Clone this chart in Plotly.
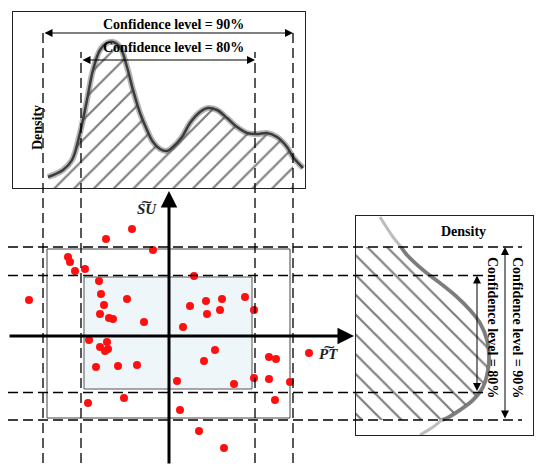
import plotly.graph_objects as go

# figure size and the pixel scale used to lay the three panels on one grid
W, H = 550, 475
PAGE_OFFSET = 8             # the page body margin pushes the figure 8px right and down
ORIGIN_PX = (169, 336)      # where the PT / SU axes cross
PX_PER_UNIT = 50            # pixels per unit on the PT and SU scales
DENS_PX = 100               # pixels per unit of density in both side panels

# confidence bounds (PT on x, SU on y)
ci90_pt = [-2.52, 2.48]
ci80_pt = [-1.76, 1.72]
ci90_su = [-1.68, 1.78]
ci80_su = [-1.13, 1.21]

# rectangles drawn in the scatter plane
outer_box_pt = [-2.44, 2.42]
outer_box_su = [-1.64, 1.74]
inner_box_pt = [-1.70, 1.66]
inner_box_su = [-1.06, 1.18]

# sample points
pt_samples = [-0.74, -1.26, -0.32, -2.02, -1.98, -1.88, -1.68, -1.40, 0.50, -2.80,
              -1.36, -0.84, -1.30, -1.38, -1.20, -1.12, -0.50, 0.42, 0.74, 1.06,
              1.52, 0.76, 1.02, 1.70, 0.28, -1.60, -1.24, -1.38, -1.28, -1.22,
              0.92, 0.70, -1.46, -1.02, -0.64, 2.00, 2.14, 2.80, 0.16, 1.30,
              1.70, 2.00, 2.42, -1.62, -0.90, 0.22, 2.12, 0.60, 1.10]
su_samples = [2.14, 1.94, 1.72, 1.58, 1.48, 1.30, 1.34, 1.10, 1.20, 0.72,
              0.84, 0.74, 0.62, 0.44, 0.36, 0.34, 0.28, 0.60, 0.70, 0.74,
              0.78, 0.44, 0.52, 0.52, 0.18, -0.08, -0.12, -0.22, -0.30, -0.26,
              -0.28, -0.50, -0.62, -0.60, -0.58, -0.42, -0.46, -0.34, -0.90, -0.96,
              -0.84, -0.86, -0.92, -1.34, -1.24, -1.48, -1.28, -1.90, -2.24]

# density of PT (top panel)
pt_grid = [-2.42, -2.12, -1.94, -1.78, -1.64, -1.52, -1.38, -1.24, -1.12, -0.98,
           -0.84, -0.72, -0.58, -0.44, -0.32, -0.18, -0.04, 0.08, 0.26, 0.42,
           0.62, 0.78, 0.96, 1.16, 1.36, 1.56, 1.76, 1.96, 2.16, 2.36,
           2.48, 2.68]
pt_density = [0.11, 0.18, 0.28, 0.55, 0.88, 1.18, 1.38, 1.45, 1.46, 1.41,
              1.21, 0.98, 0.75, 0.58, 0.46, 0.39, 0.37, 0.41, 0.51, 0.65,
              0.76, 0.80, 0.78, 0.70, 0.61, 0.55, 0.54, 0.55, 0.51, 0.41,
              0.31, 0.20]

# density of SU (right panel)
su_grid = [2.38, 1.98, 1.78, 1.62, 1.32, 1.06, 0.78, 0.52, 0.26, -0.08,
           -0.42, -0.68, -1.02, -1.28, -1.48, -1.64, -1.68, -1.82, -1.98]
su_density = [0.24, 0.37, 0.45, 0.51, 0.67, 0.84, 1.01, 1.14, 1.24, 1.31,
              1.33, 1.32, 1.27, 1.17, 1.04, 0.91, 0.86, 0.77, 0.64]

FONT = "Liberation Serif"


def pt_at(px):
    return (px - ORIGIN_PX[0]) / PX_PER_UNIT


def su_at(py):
    return (ORIGIN_PX[1] - py) / PX_PER_UNIT


def px_paper(px):
    return (px - PAGE_OFFSET) / W


def py_paper(py):
    return (H - (py - PAGE_OFFSET)) / H


def xdom(left, right):
    return [px_paper(left), px_paper(right)]


def ydom(top, bottom):
    return [py_paper(bottom), py_paper(top)]


top_hatch = [(x, d) for x, d in zip(pt_grid, pt_density) if x <= ci90_pt[1]]
right_hatch = [(s, d) for s, d in zip(su_grid, su_density) if ci90_su[0] <= s <= ci90_su[1]]

fig = go.Figure()

# scatter plane
fig.add_trace(go.Scatter(
    x=pt_samples, y=su_samples, mode="markers",
    marker=dict(color="#ff1010", size=8, line=dict(width=0)),
    xaxis="x", yaxis="y", showlegend=False,
))

# top panel: density of PT
fig.add_trace(go.Scatter(
    x=[p[0] for p in top_hatch], y=[p[1] for p in top_hatch],
    mode="lines", line=dict(width=0, shape="spline"),
    fill="tozeroy", fillcolor="white",
    fillpattern=dict(shape="/", size=14, solidity=0.16, fgcolor="black", bgcolor="white"),
    xaxis="x2", yaxis="y2", showlegend=False,
))
fig.add_trace(go.Scatter(
    x=pt_grid, y=pt_density, mode="lines",
    line=dict(color="rgba(90,90,90,0.45)", width=6, shape="spline"),
    xaxis="x2", yaxis="y2", showlegend=False,
))
fig.add_trace(go.Scatter(
    x=pt_grid, y=pt_density, mode="lines",
    line=dict(color="#3c3c3c", width=2.5, shape="spline"),
    xaxis="x2", yaxis="y2", showlegend=False,
))

# right panel: density of SU
fig.add_trace(go.Scatter(
    x=[p[1] for p in right_hatch], y=[p[0] for p in right_hatch],
    mode="lines", line=dict(width=0, shape="spline"),
    fill="tozerox", fillcolor="white",
    fillpattern=dict(shape="\\", size=14, solidity=0.16, fgcolor="black", bgcolor="white"),
    xaxis="x3", yaxis="y3", showlegend=False,
))
fig.add_trace(go.Scatter(
    x=su_density, y=su_grid, mode="lines",
    line=dict(color="#bdbdbd", width=3, shape="spline"),
    xaxis="x3", yaxis="y3", showlegend=False,
))
fig.add_trace(go.Scatter(
    x=[p[1] for p in right_hatch], y=[p[0] for p in right_hatch], mode="lines",
    line=dict(color="rgba(70,70,70,0.55)", width=4, shape="spline"),
    xaxis="x3", yaxis="y3", showlegend=False,
))

shapes = []
# confidence rectangles
shapes.append(dict(type="rect", xref="x", yref="y", layer="below",
                   x0=outer_box_pt[0], x1=outer_box_pt[1], y0=outer_box_su[0], y1=outer_box_su[1],
                   line=dict(color="#444", width=1)))
shapes.append(dict(type="rect", xref="x", yref="y", layer="below",
                   x0=inner_box_pt[0], x1=inner_box_pt[1], y0=inner_box_su[0], y1=inner_box_su[1],
                   fillcolor="#eef6fa", line=dict(color="#555", width=1)))

# dashed guide lines
dash = dict(color="black", width=1.3, dash="10px,5px")
for bounds, top in ((ci90_pt, 32), (ci80_pt, 52)):
    for b in bounds:
        shapes.append(dict(type="line", xref="x", yref="paper", layer="above",
                           x0=b, x1=b, y0=py_paper(463), y1=py_paper(top), line=dash))
for bounds, right in ((ci90_su, 522), (ci80_su, 485)):
    for b in bounds:
        shapes.append(dict(type="line", xref="paper", yref="y", layer="above",
                           x0=px_paper(8), x1=px_paper(right), y0=b, y1=b, line=dash))

bold = dict(family=FONT, size=14, color="black")
annotations = [
    # main axes arrows
    dict(x=pt_at(354), y=0, ax=pt_at(8), ay=0, xref="x", yref="y", axref="x", ayref="y",
         text="", showarrow=True, arrowhead=2, arrowsize=1.1, arrowwidth=3,
         arrowcolor="black", standoff=0, startstandoff=0),
    dict(x=0, y=su_at(191), ax=0, ay=su_at(465), xref="x", yref="y", axref="x", ayref="y",
         text="", showarrow=True, arrowhead=2, arrowsize=1.1, arrowwidth=3,
         arrowcolor="black", standoff=0, startstandoff=0),
    dict(x=pt_at(147), y=su_at(208), xref="x", yref="y", showarrow=False,
         text="<b><i>S\u0360U</i></b>", font=dict(family=FONT, size=15, color="#222")),
    dict(x=pt_at(328), y=su_at(353), xref="x", yref="y", showarrow=False,
         text="<b><i>P\u0360T</i></b>", font=dict(family=FONT, size=15, color="#222")),

    # top panel
    dict(x=ci90_pt[1], y=1.55, ax=ci90_pt[0], ay=1.55, xref="x2", yref="y2", axref="x2", ayref="y2",
         text="", showarrow=True, arrowhead=2, arrowside="end+start", arrowsize=1.6,
         arrowwidth=1, arrowcolor="black", standoff=0, startstandoff=0),
    dict(x=ci80_pt[1], y=1.28, ax=ci80_pt[0], ay=1.28, xref="x2", yref="y2", axref="x2", ayref="y2",
         text="", showarrow=True, arrowhead=2, arrowside="end+start", arrowsize=1.6,
         arrowwidth=1, arrowcolor="black", standoff=0, startstandoff=0),
    dict(x=pt_at(173), y=1.64, xref="x2", yref="y2", showarrow=False,
         text="<b>Confidence level = 90%</b>", font=bold),
    dict(x=pt_at(173), y=1.41, xref="x2", yref="y2", showarrow=False,
         text="<b>Confidence level = 80%</b>", font=bold),
    dict(x=px_paper(28), y=py_paper(103), xref="paper", yref="paper", showarrow=False,
         text="<b>Density</b>", textangle=-90, font=dict(family=FONT, size=14, color="black")),

    # right panel
    dict(x=1.49, y=ci90_su[1], ax=1.49, ay=ci90_su[0], xref="x3", yref="y3", axref="x3", ayref="y3",
         text="", showarrow=True, arrowhead=2, arrowside="end+start", arrowsize=1.6,
         arrowwidth=1, arrowcolor="black", standoff=0, startstandoff=0),
    dict(x=1.21, y=ci80_su[1], ax=1.21, ay=ci80_su[0], xref="x3", yref="y3", axref="x3", ayref="y3",
         text="", showarrow=True, arrowhead=2, arrowside="end+start", arrowsize=1.6,
         arrowwidth=1, arrowcolor="black", standoff=0, startstandoff=0),
    dict(x=1.62, y=0.18, xref="x3", yref="y3", showarrow=False, textangle=90,
         text="<b>Confidence level = 90%</b>", font=bold),
    dict(x=1.37, y=0.18, xref="x3", yref="y3", showarrow=False, textangle=90,
         text="<b>Confidence level = 80%</b>", font=bold),
    dict(x=1.07, y=su_at(232), xref="x3", yref="y3", showarrow=False,
         text="<b>Density</b>", font=dict(family=FONT, size=14, color="black")),
]

hidden = dict(visible=False, fixedrange=True)
framed = dict(showline=True, mirror=True, linecolor="#222", linewidth=1.3,
              showgrid=False, zeroline=False, showticklabels=False, ticks="", fixedrange=True)

fig.update_layout(
    width=W, height=H,
    margin=dict(l=0, r=0, t=0, b=0),
    paper_bgcolor="white", plot_bgcolor="rgba(0,0,0,0)",
    showlegend=False,
    xaxis=dict(domain=[0, 1], range=[pt_at(PAGE_OFFSET), pt_at(W + PAGE_OFFSET)], anchor="y", **hidden),
    yaxis=dict(domain=[0, 1], range=[su_at(H + PAGE_OFFSET), su_at(PAGE_OFFSET)], anchor="x", **hidden),
    xaxis2=dict(domain=xdom(13, 305), range=[pt_at(13), pt_at(305)], anchor="y2", **framed),
    yaxis2=dict(domain=ydom(12, 188), range=[0, 176 / DENS_PX], anchor="x2", **framed),
    xaxis3=dict(domain=xdom(356, 533), range=[0, 177 / DENS_PX], anchor="y3", **framed),
    yaxis3=dict(domain=ydom(216, 435), range=[su_at(435), su_at(216)], anchor="x3", **framed),
    shapes=shapes,
    annotations=annotations,
)

fig.write_html("out.html")
